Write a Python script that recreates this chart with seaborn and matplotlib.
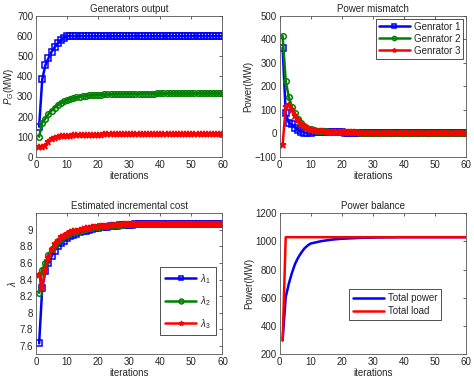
import matplotlib
matplotlib.use("Agg")
import matplotlib.pyplot as plt
import numpy as np
import pandas as pd
import seaborn as sns

# iterations 1..60
iterations = list(range(1, 61))

# generators output (MW)
gen1_output = [150, 385, 455, 490, 522, 545, 565, 580, 593, 600,
               600, 600, 600, 600, 600, 600, 600, 600, 600, 600,
               600, 600, 600, 600, 600, 600, 600, 600, 600, 600,
               600, 600, 600, 600, 600, 600, 600, 600, 600, 600,
               600, 600, 600, 600, 600, 600, 600, 600, 600, 600,
               600, 600, 600, 600, 600, 600, 600, 600, 600, 600]
gen2_output = [100, 170, 190, 212, 230, 245, 258, 268, 276, 283,
               288, 292, 296, 299, 301, 303, 305, 306, 307, 308,
               309, 310, 310, 311, 311, 312, 312, 312, 313, 313,
               313, 313, 314, 314, 314, 314, 314, 314, 315, 315,
               315, 315, 315, 315, 315, 315, 315, 315, 315, 315,
               315, 315, 315, 315, 315, 315, 315, 315, 315, 315]
gen3_output = [50, 50, 55, 75, 88, 95, 99, 102, 104, 105,
               106, 107, 108, 108, 109, 109, 110, 110, 111, 111,
               111, 112, 112, 112, 112, 113, 113, 113, 113, 113,
               114, 114, 114, 114, 114, 114, 114, 114, 114, 114,
               115, 115, 115, 115, 115, 115, 115, 115, 115, 115,
               115, 115, 115, 115, 115, 115, 115, 115, 115, 115]

# power mismatch (MW)
gen1_mismatch = [365, 85, 45, 38, 25, 15, 8, 3, 0, 2,
                 5, 6, 6, 6, 5, 5, 5, 4, 4, 4,
                 3, 3, 3, 3, 2, 2, 2, 2, 2, 2,
                 1, 1, 1, 1, 1, 1, 1, 1, 1, 1,
                 0, 0, 0, 0, 0, 0, 0, 0, 0, 0,
                 0, 0, 0, 0, 0, 0, 0, 0, 0, 0]
gen2_mismatch = [415, 222, 155, 112, 85, 62, 45, 33, 25, 18,
                 14, 12, 11, 10, 9, 8, 7, 7, 6, 6,
                 5, 5, 4, 4, 4, 3, 3, 3, 3, 2,
                 2, 2, 2, 2, 1, 1, 1, 1, 1, 1,
                 1, 1, 1, 0, 0, 0, 0, 0, 0, 0,
                 0, 0, 0, 0, 0, 0, 0, 0, 0, 0]
gen3_mismatch = [-50, 112, 122, 100, 75, 55, 40, 30, 22, 16,
                 13, 11, 10, 9, 8, 7, 7, 6, 6, 5,
                 5, 4, 4, 4, 3, 3, 3, 3, 2, 2,
                 2, 2, 2, 1, 1, 1, 1, 1, 1, 1,
                 1, 1, 0, 0, 0, 0, 0, 0, 0, 0,
                 0, 0, 0, 0, 0, 0, 0, 0, 0, 0]

# estimated incremental cost
lambda1 = [7.63, 8.30, 8.50, 8.60, 8.68, 8.75, 8.80, 8.84, 8.87, 8.90,
           8.92, 8.94, 8.955, 8.97, 8.98, 8.99, 9.00, 9.01, 9.02, 9.025,
           9.03, 9.035, 9.04, 9.045, 9.05, 9.05, 9.055, 9.055, 9.06, 9.06,
           9.06, 9.065, 9.065, 9.065, 9.065, 9.07, 9.07, 9.07, 9.07, 9.07,
           9.07, 9.07, 9.07, 9.07, 9.07, 9.07, 9.07, 9.07, 9.07, 9.07,
           9.07, 9.07, 9.07, 9.07, 9.07, 9.07, 9.07, 9.07, 9.07, 9.07]
lambda2 = [8.24, 8.52, 8.60, 8.70, 8.77, 8.82, 8.86, 8.89, 8.92, 8.94,
           8.96, 8.97, 8.98, 8.99, 9.00, 9.01, 9.02, 9.025, 9.03, 9.035,
           9.04, 9.045, 9.05, 9.05, 9.055, 9.055, 9.06, 9.06, 9.065, 9.065,
           9.065, 9.07, 9.07, 9.07, 9.07, 9.07, 9.07, 9.07, 9.07, 9.07,
           9.07, 9.07, 9.07, 9.07, 9.07, 9.07, 9.07, 9.07, 9.07, 9.07,
           9.07, 9.07, 9.07, 9.07, 9.07, 9.07, 9.07, 9.07, 9.07, 9.07]
lambda3 = [8.46, 8.30, 8.52, 8.66, 8.76, 8.83, 8.87, 8.91, 8.93, 8.95,
           8.97, 8.98, 8.99, 9.00, 9.01, 9.02, 9.025, 9.03, 9.035, 9.04,
           9.045, 9.05, 9.05, 9.055, 9.055, 9.06, 9.06, 9.065, 9.065, 9.065,
           9.07, 9.07, 9.07, 9.07, 9.07, 9.07, 9.07, 9.07, 9.07, 9.07,
           9.07, 9.07, 9.07, 9.07, 9.07, 9.07, 9.07, 9.07, 9.07, 9.07,
           9.07, 9.07, 9.07, 9.07, 9.07, 9.07, 9.07, 9.07, 9.07, 9.07]

# power balance (MW)
total_power = [300, 605, 700, 777, 840, 885, 920, 950, 970, 985,
               990, 995, 1000, 1004, 1007, 1010, 1013, 1015, 1017, 1019,
               1020, 1021, 1022, 1023, 1024, 1025, 1026, 1026, 1027, 1027,
               1028, 1028, 1028, 1029, 1029, 1029, 1029, 1030, 1030, 1030,
               1030, 1030, 1030, 1030, 1030, 1030, 1030, 1030, 1030, 1030,
               1030, 1030, 1030, 1030, 1030, 1030, 1030, 1030, 1030, 1030]
total_load = [295, 1030, 1030, 1030, 1030, 1030, 1030, 1030, 1030, 1030,
              1030, 1030, 1030, 1030, 1030, 1030, 1030, 1030, 1030, 1030,
              1030, 1030, 1030, 1030, 1030, 1030, 1030, 1030, 1030, 1030,
              1030, 1030, 1030, 1030, 1030, 1030, 1030, 1030, 1030, 1030,
              1030, 1030, 1030, 1030, 1030, 1030, 1030, 1030, 1030, 1030,
              1030, 1030, 1030, 1030, 1030, 1030, 1030, 1030, 1030, 1030]

sns.set_style("white")
plt.rcParams["font.family"] = ["Liberation Sans", "DejaVu Sans"]
plt.rcParams["font.size"] = 7
plt.rcParams["mathtext.fontset"] = "custom"
plt.rcParams["mathtext.it"] = "Liberation Sans:italic"
plt.rcParams["mathtext.rm"] = "Liberation Sans"

BLUE, GREEN, RED = "#0000ff", "#008000", "#ff0000"
styles = [(BLUE, "s"), (GREEN, "o"), (RED, "*")]

fig, axes = plt.subplots(2, 2, figsize=(4.74, 3.80), dpi=100)
fig.subplots_adjust(left=0.076, right=0.983, top=0.958, bottom=0.068,
                    wspace=0.306, hspace=0.40)


def marked_lines(ax, series, labels=None):
    for i, (y, (c, m)) in enumerate(zip(series, styles)):
        sns.lineplot(x=iterations, y=y, ax=ax, color=c, marker=m,
                     markersize=4 if m != "*" else 4.5, markerfacecolor="none",
                     markeredgecolor=c, markeredgewidth=1.1, linewidth=1.8,
                     label=None if labels is None else labels[i], legend=False)


def matlab_axes(ax):
    ax.tick_params(direction="in", top=True, right=True, length=2.5,
                   width=0.5, pad=2, labelsize=7)
    for s in ax.spines.values():
        s.set_color("#555555")
        s.set_linewidth(0.6)
    ax.set_xlim(0, 60)
    ax.set_xticks(range(0, 61, 10))
    ax.set_xlabel("iterations", labelpad=1)


# Generators output
ax = axes[0, 0]
marked_lines(ax, [gen1_output, gen2_output, gen3_output])
matlab_axes(ax)
ax.set_ylim(0, 700)
ax.set_yticks(range(0, 701, 100))
ax.set_ylabel(r"$P_G$(MW)", labelpad=1)
ax.set_title("Generators output", fontsize=7, pad=3)

# Power mismatch
ax = axes[0, 1]
marked_lines(ax, [gen1_mismatch, gen2_mismatch, gen3_mismatch],
             ["Genrator 1", "Genrator 2", "Genrator 3"])
matlab_axes(ax)
ax.set_ylim(-100, 500)
ax.set_yticks(range(-100, 501, 100))
ax.set_ylabel("Power(MW)", labelpad=1)
ax.set_title("Power mismatch", fontsize=7, pad=3)
leg = ax.legend(loc="upper right", fontsize=7, handlelength=3.2,
                borderaxespad=0.3, fancybox=False, edgecolor="black",
                labelspacing=0.2, handletextpad=0.4, borderpad=0.3)
leg.get_frame().set_linewidth(0.6)
for h in leg.legend_handles:
    h.set_markersize(3)

# Estimated incremental cost
ax = axes[1, 0]
marked_lines(ax, [lambda1, lambda2, lambda3],
             [r"$\lambda_1$", r"$\lambda_2$", r"$\lambda_3$"])
matlab_axes(ax)
ax.set_ylim(7.5, 9.2)
ax.set_yticks(np.arange(7.6, 9.01, 0.2))
ax.set_yticklabels(["7.6", "7.8", "8", "8.2", "8.4", "8.6", "8.8", "9"])
ax.set_ylabel(r"$\lambda$", labelpad=1)
ax.set_title("Estimated incremental cost", fontsize=7, pad=3)
leg = ax.legend(loc="center", bbox_to_anchor=(0.815, 0.376), fontsize=7,
                handlelength=3.2, fancybox=False, edgecolor="black",
                labelspacing=0.9, handletextpad=0.4, borderpad=0.5)
leg.get_frame().set_linewidth(0.6)
for h in leg.legend_handles:
    h.set_markersize(3.5)

# Power balance
ax = axes[1, 1]
df = pd.DataFrame({"iterations": iterations * 2,
                   "power": total_power + total_load,
                   "series": ["Total power"] * 60 + ["Total load"] * 60})
sns.lineplot(data=df, x="iterations", y="power", hue="series",
             palette=[BLUE, RED], linewidth=1.8, ax=ax)
matlab_axes(ax)
ax.set_ylim(200, 1200)
ax.set_yticks(range(200, 1201, 200))
ax.set_ylabel("Power(MW)", labelpad=1)
ax.set_title("Power balance", fontsize=7, pad=3)
leg = ax.legend(loc="center", bbox_to_anchor=(0.62, 0.35), fontsize=7,
                handlelength=3.2, fancybox=False, edgecolor="black",
                labelspacing=0.3, handletextpad=0.4, borderpad=0.4)
leg.get_frame().set_linewidth(0.6)

fig.savefig("out.png", dpi=100)
